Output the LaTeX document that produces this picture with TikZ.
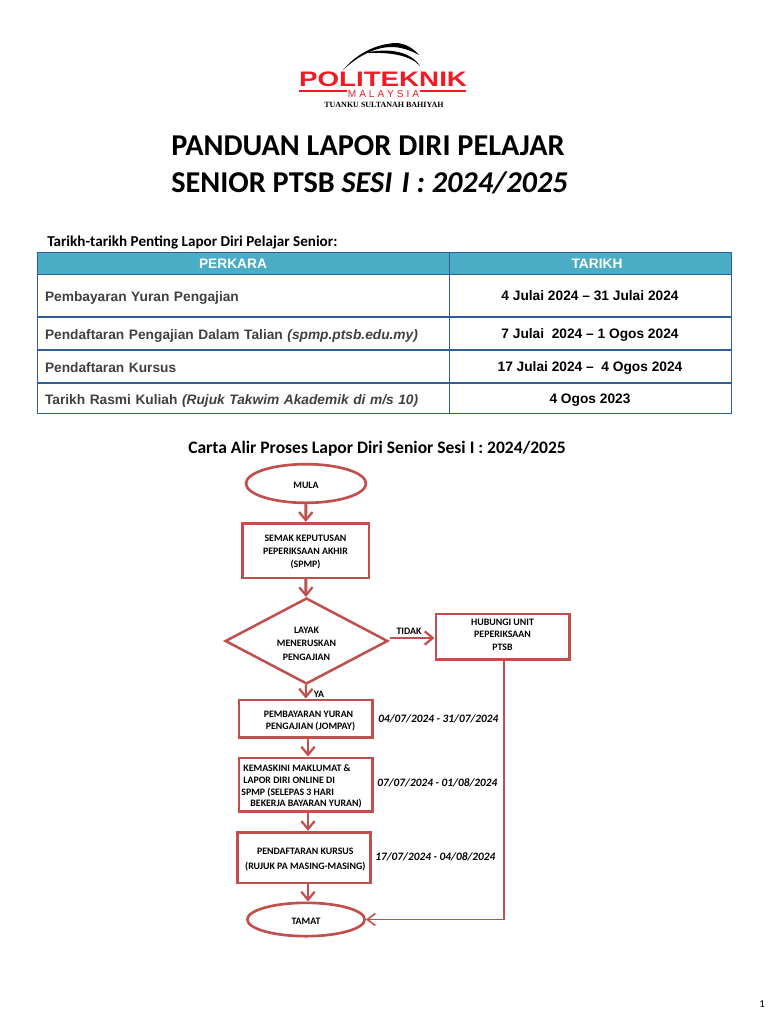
\documentclass[tikz,border=0pt]{standalone}
\usepackage{fontspec}
\usepackage{graphicx}
\setmainfont{Carlito}
\newfontfamily\arialfont{Liberation Sans}
\newfontfamily\timesfont{Liberation Serif}
\usetikzlibrary{shapes.geometric,arrows.meta,positioning}
\definecolor{flowred}{HTML}{C0504D}
\definecolor{logored}{HTML}{ED1C24}
\definecolor{headblue}{HTML}{4BACC6}
\definecolor{gridblue}{HTML}{2F5D9B}
\definecolor{greytext}{HTML}{404040}
\tikzstyle{title} = [font = \fontsize{22.7}{27}\selectfont\bfseries, anchor = west, inner sep = 0]
\tikzstyle{heading} = [font = \fontsize{11.35}{13}\selectfont\bfseries, anchor = west, inner sep = 0]
\tikzstyle{cellA} = [rectangle, draw = gridblue, line width = 0.75pt, anchor = north west, outer sep = 0, inner xsep = 6pt, inner ysep = 0, minimum width = 309pt, text width = 297pt, align = left, text height = 11pt, text depth = 1.5pt, font = \arialfont\fontsize{10.3}{12}\selectfont\bfseries, text = greytext]
\tikzstyle{cellB} = [rectangle, draw = gridblue, line width = 0.75pt, anchor = north west, outer sep = 0, inner sep = 0, minimum width = 211.5pt, align = center, text height = 9pt, text depth = 1.5pt, font = \arialfont\fontsize{10.3}{12}\selectfont\bfseries, text = black]
\tikzstyle{headA} = [cellA, fill = headblue, align = center, text = white, text height = 9pt]
\tikzstyle{headB} = [cellB, fill = headblue, text = white]
\tikzstyle{terminal} = [ellipse, draw = flowred, line width = 2pt, inner sep = 0, text height = 7pt, font = \fontsize{7.4}{9}\selectfont\bfseries]
\tikzstyle{block} = [rectangle, draw = flowred, line width = 2pt, inner sep = 0, align = center, font = \fontsize{7.4}{9.6}\selectfont\bfseries]
\tikzstyle{decision} = [diamond, draw = flowred, line width = 1.9pt, inner sep = 0, aspect = 1.9, align = center, font = \fontsize{7.4}{9.4}\selectfont\bfseries]
\tikzstyle{tag} = [inner sep = 0, font = \fontsize{7.4}{8}\selectfont\bfseries]
\tikzstyle{datum} = [inner sep = 0, anchor = west, font = \fontsize{8.5}{10}\selectfont\bfseries\itshape]
\tikzstyle{line2} = [draw = flowred, line width = 2.2pt, -{Straight Barb[length = 6pt, width = 10pt, line width = 1.7pt]}]
\tikzstyle{line3} = [draw = flowred, line width = 1.3pt, -{Straight Barb[length = 6pt, width = 9pt, line width = 1.2pt]}]
\tikzstyle{rowrule} = [draw = gridblue, line width = 1.5pt]

\begin{document}
\begin{tikzpicture}[x = 0.75pt, y = -0.75pt]
	\useasboundingbox (0, 0) rectangle (768, 1024);
	% Logo
	\fill (343, 70) .. controls (358, 52) and (378, 44) .. (395, 43) .. controls (405, 43) and (413, 48) .. (419, 55) .. controls (410, 50) and (400, 47) .. (392, 47) .. controls (375, 47) and (358, 56) .. (343, 70);
	\fill (365, 53) .. controls (385, 48) and (410, 50) .. (420, 66) .. controls (410, 55) and (390, 52) .. (365, 53);
	\node [inner sep = 0, text = logored] (brand) at (383, 79) {\resizebox{126pt}{11pt}{\arialfont\bfseries POLITEKNIK}};
	\fill [logored] (299, 90.5) rectangle (347, 92.5);
	\fill [logored] (420, 90.5) rectangle (466, 92.5);
	\node [inner sep = 0, text = logored, font = \arialfont\fontsize{7.6}{8}\selectfont] (country) at (383.5, 94) {M\kern2.2pt A\kern2.2pt L\kern2.2pt A\kern2.2pt Y\kern2.2pt S\kern2.2pt I\kern2.2pt A};
	\node [inner sep = 0, font = \timesfont\fontsize{6}{7}\selectfont\bfseries] (campus) at (384, 104.5) {TUANKU SULTANAH BAHIYAH};

	% Titles
	\node [title] (title1) at (171, 146) {PANDUAN LAPOR DIRI PELAJAR};
	\node [title] (title2) at (171, 183) {SENIOR PTSB \textit{SESI\hspace{7pt}I : 2024/2025}};
	\node [heading] (tablehead) at (47, 242) {Tarikh-tarikh Penting Lapor Diri Pelajar Senior:};
	\node [heading, font = \fontsize{13.15}{15}\selectfont\bfseries] (flowhead) at (188, 449) {Carta Alir Proses Lapor Diri Senior Sesi I : 2024/2025};

	% Table
	\node [headA, minimum height = 16.5pt] (perkara) at (37, 252) {PERKARA\hspace{15pt}\mbox{}};
	\node [headB, minimum height = 16.5pt] (tarikh) at (449, 252) {\hspace{10.5pt}TARIKH};
	\node [cellA, minimum height = 31.5pt] (rowa) at (37, 274.5) {Pembayaran Yuran Pengajian};
	\node [cellB, minimum height = 31.5pt] (datea) at (449, 274.5) {4 Julai 2024 – 31 Julai 2024};
	\node [cellA, minimum height = 25pt] (rowb) at (37, 316.5) {Pendaftaran Pengajian Dalam Talian \textit{(spmp.ptsb.edu.my)}};
	\node [cellB, minimum height = 25pt] (dateb) at (449, 316.5) {7 Julai~ 2024 – 1 Ogos 2024};
	\node [cellA, minimum height = 24.5pt] (rowc) at (37, 350) {Pendaftaran Kursus};
	\node [cellB, minimum height = 24.5pt] (datec) at (449, 350) {17 Julai 2024 – ~4 Ogos 2024};
	\node [cellA, minimum height = 23pt] (rowd) at (37, 383) {Tarikh Rasmi Kuliah \textit{(Rujuk Takwim Akademik di m/s 10)}};
	\node [cellB, minimum height = 23pt] (dated) at (449, 383) {4 Ogos 2023};
	\path [rowrule] (rowa.south west) -- (datea.south east);
	\path [rowrule] (rowc.south west) -- (datec.south east);

	% Place nodes
	\node [terminal, minimum width = 90pt, minimum height = 29pt] (mula) at (306, 483.5) {MULA};
	\node [block, minimum width = 95pt, minimum height = 41pt] (semak) at (305.5, 550.5) {\rule{0pt}{6.7pt}SEMAK KEPUTUSAN\\PEPERIKSAAN AKHIR\\(SPMP)};
	\node [decision, minimum width = 122pt, minimum height = 64.5pt] (layak) at (306.5, 641) {\rule{0pt}{9pt}LAYAK\\MENERUSKAN\\[1pt]PENGAJIAN};
	\node [block, minimum width = 100pt, minimum height = 34pt, font = \fontsize{7.4}{9.4}\selectfont\bfseries] (hubungi) at (502.5, 636.5) {HUBUNGI UNIT\\PEPERIKSAAN\\PTSB\rule[-3pt]{0pt}{3pt}};
	\node [block, minimum width = 100pt, minimum height = 28pt, font = \fontsize{7.4}{9.2}\selectfont\bfseries] (bayar) at (305.5, 718.5) {\rule{0pt}{8.2pt}\hspace{4.5pt}PEMBAYARAN YURAN\\\hspace{7.5pt}PENGAJIAN (JOMPAY)};
	\node [block, minimum width = 100pt, minimum height = 40pt, align = left, font = \fontsize{7.4}{8.8}\selectfont\bfseries] (kemaskini) at (305.5, 784.5) {\rule{0pt}{8.2pt}\hspace{1.5pt}KEMASKINI MAKLUMAT \&\\\hspace{1.5pt}LAPOR DIRI ONLINE DI\\SPMP (SELEPAS 3 HARI\\\hspace{6.75pt}BEKERJA BAYARAN YURAN)\hspace{6pt}\mbox{}};
	\node [block, minimum width = 100pt, minimum height = 38pt, font = \fontsize{7.4}{11.25}\selectfont\bfseries] (kursus) at (304, 857.5) {\rule{0pt}{8.2pt}\hspace{2pt}PENDAFTARAN KURSUS\\\hspace{2pt}(RUJUK PA MASING-MASING)};
	\node [terminal, minimum width = 88pt, minimum height = 25pt] (tamat) at (306, 919.5) {TAMAT};
	\coordinate (axis) at (308, 0);
	\coordinate (turn) at (504, 0);
	\coordinate (branch) at (390, 638);

	\node [tag] (tidak) at (409, 631) {TIDAK};
	\node [tag] (ya) at (319, 694) {YA};
	\node [datum] (perioda) at (378, 719) {04/07/2024 - 31/07/2024};
	\node [datum] (periodb) at (377, 783) {07/07/2024 - 01/08/2024};
	\node [datum] (periodc) at (375, 857) {17/07/2024 - 04/08/2024};
	\node [inner sep = 0, font = \fontsize{8}{9}\selectfont] (page) at (762, 1004) {1};

	% Draw edges
	\path [line2] (mula) -- (semak);
	\path [line2] (semak) -- (layak);
	\path [line2] (branch) -- (branch -| hubungi.west);
	\path [line2, line width = 1.6pt] (layak) -- (bayar);
	\path [line2] (bayar.south -| axis) -- (kemaskini.north -| axis);
	\path [line2] (kemaskini.south -| axis) -- (kursus.north -| axis);
	\path [line2] (kursus.south -| axis) -- (tamat.north -| axis);
	\path [line3] (hubungi.south -| turn) -- (tamat.east -| turn) -- (tamat.east);
\end{tikzpicture}
\end{document}
